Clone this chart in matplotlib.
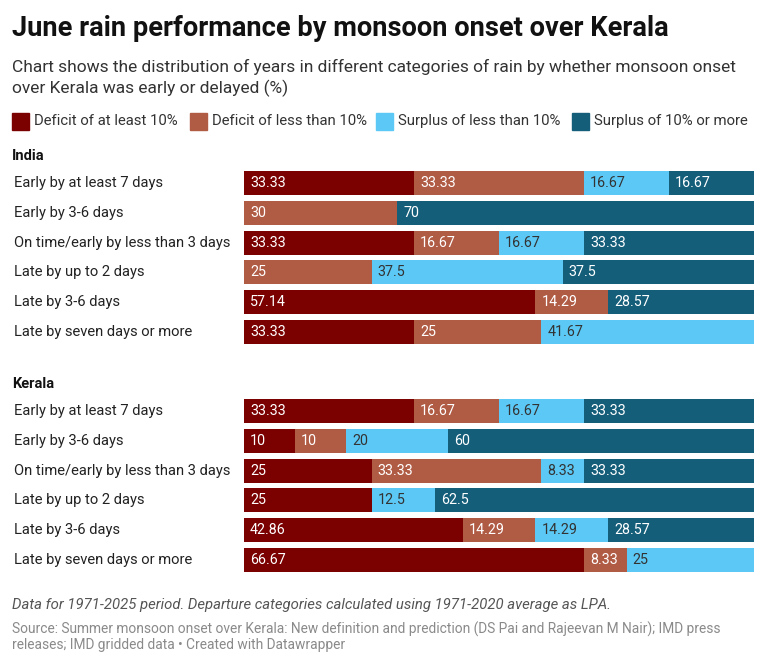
import matplotlib.pyplot as plt
from matplotlib.patches import Rectangle

plt.rcParams['font.family'] = ['Roboto', 'DejaVu Sans']

W, H = 768, 665

categories = ["Deficit of at least 10%", "Deficit of less than 10%",
              "Surplus of less than 10%", "Surplus of 10% or more"]
colors = ["#7b0000", "#b05b44", "#5bc8f5", "#155e7a"]
text_colors = ["white", "white", "#333333", "white"]

rows = ["Early by at least 7 days", "Early by 3-6 days",
        "On time/early by less than 3 days", "Late by up to 2 days",
        "Late by 3-6 days", "Late by seven days or more"]

# columns: deficit>=10, deficit<10, surplus<10, surplus>=10
india = [
    [33.33, 33.33, 16.67, 16.67],
    [0, 30, 0, 70],
    [33.33, 16.67, 16.67, 33.33],
    [0, 25, 37.5, 37.5],
    [57.14, 14.29, 0, 28.57],
    [33.33, 25, 41.67, 0],
]
kerala = [
    [33.33, 16.67, 16.67, 33.33],
    [10, 10, 20, 60],
    [25, 33.33, 8.33, 33.33],
    [25, 0, 12.5, 62.5],
    [42.86, 14.29, 14.29, 28.57],
    [66.67, 8.33, 25, 0],
]


def fx(px):
    return px / W


def fy(py):
    return 1 - py / H


fig = plt.figure(figsize=(W / 100, H / 100), dpi=100)

fig.text(fx(12), fy(28), "June rain performance by monsoon onset over Kerala",
         fontsize=19.6, fontweight='bold', color='#111111', va='center')
fig.text(fx(12), fy(67), "Chart shows the distribution of years in different categories of rain by whether monsoon onset",
         fontsize=12.5, color='#333333', va='center')
fig.text(fx(12), fy(88), "over Kerala was early or delayed (%)",
         fontsize=12.5, color='#333333', va='center')

# legend
leg_x = [12, 190, 376, 572]
for x, lab, c in zip(leg_x, categories, colors):
    fig.patches.append(Rectangle((fx(x), fy(130)), fx(17), 17 / H, color=c,
                                 transform=fig.transFigure, figure=fig))
    fig.text(fx(x + 22), fy(121), lab, fontsize=10.7, color='#333333', va='center')


def panel(top_px, title, data):
    fig.text(fx(12), fy(top_px - 27), title, fontsize=10.5, fontweight='bold',
             color='#111111', va='center')
    spacing = 29.8
    h = spacing * 6
    ax = fig.add_axes([fx(244), fy(top_px - spacing / 2 + h), fx(510), h / H])
    ys = list(range(len(rows)))
    lefts = [0] * len(rows)
    for j in range(4):
        vals = [r[j] for r in data]
        ax.barh(ys, vals, left=lefts, height=0.8, color=colors[j], linewidth=0)
        for i, v in enumerate(vals):
            if v > 0:
                lab = ('%g' % v)
                ax.text(lefts[i] + 1.2, i, lab, color=text_colors[j],
                        fontsize=10.3, va='center', ha='left')
        lefts = [a + b for a, b in zip(lefts, vals)]
    ax.set_xlim(0, 100)
    ax.set_ylim(5.5, -0.5)
    ax.axis('off')
    for i, r in enumerate(rows):
        fig.text(fx(14), fy(top_px + i * spacing), r, fontsize=10.6,
                 color='#222222', va='center')


panel(183, "India", india)
panel(411, "Kerala", kerala)

fig.text(fx(12), fy(605), "Data for 1971-2025 period. Departure categories calculated using 1971-2020 average as LPA.",
         fontsize=10.7, style='italic', color='#555555', va='center')
fig.text(fx(12), fy(629), "Source: Summer monsoon onset over Kerala: New definition and prediction (DS Pai and Rajeevan M Nair); IMD press",
         fontsize=9.9, color='#8a8a8a', va='center')
fig.text(fx(12), fy(645), "releases; IMD gridded data \u2022 Created with Datawrapper",
         fontsize=9.9, color='#8a8a8a', va='center')

fig.savefig("out.png", dpi=100, facecolor='white')
